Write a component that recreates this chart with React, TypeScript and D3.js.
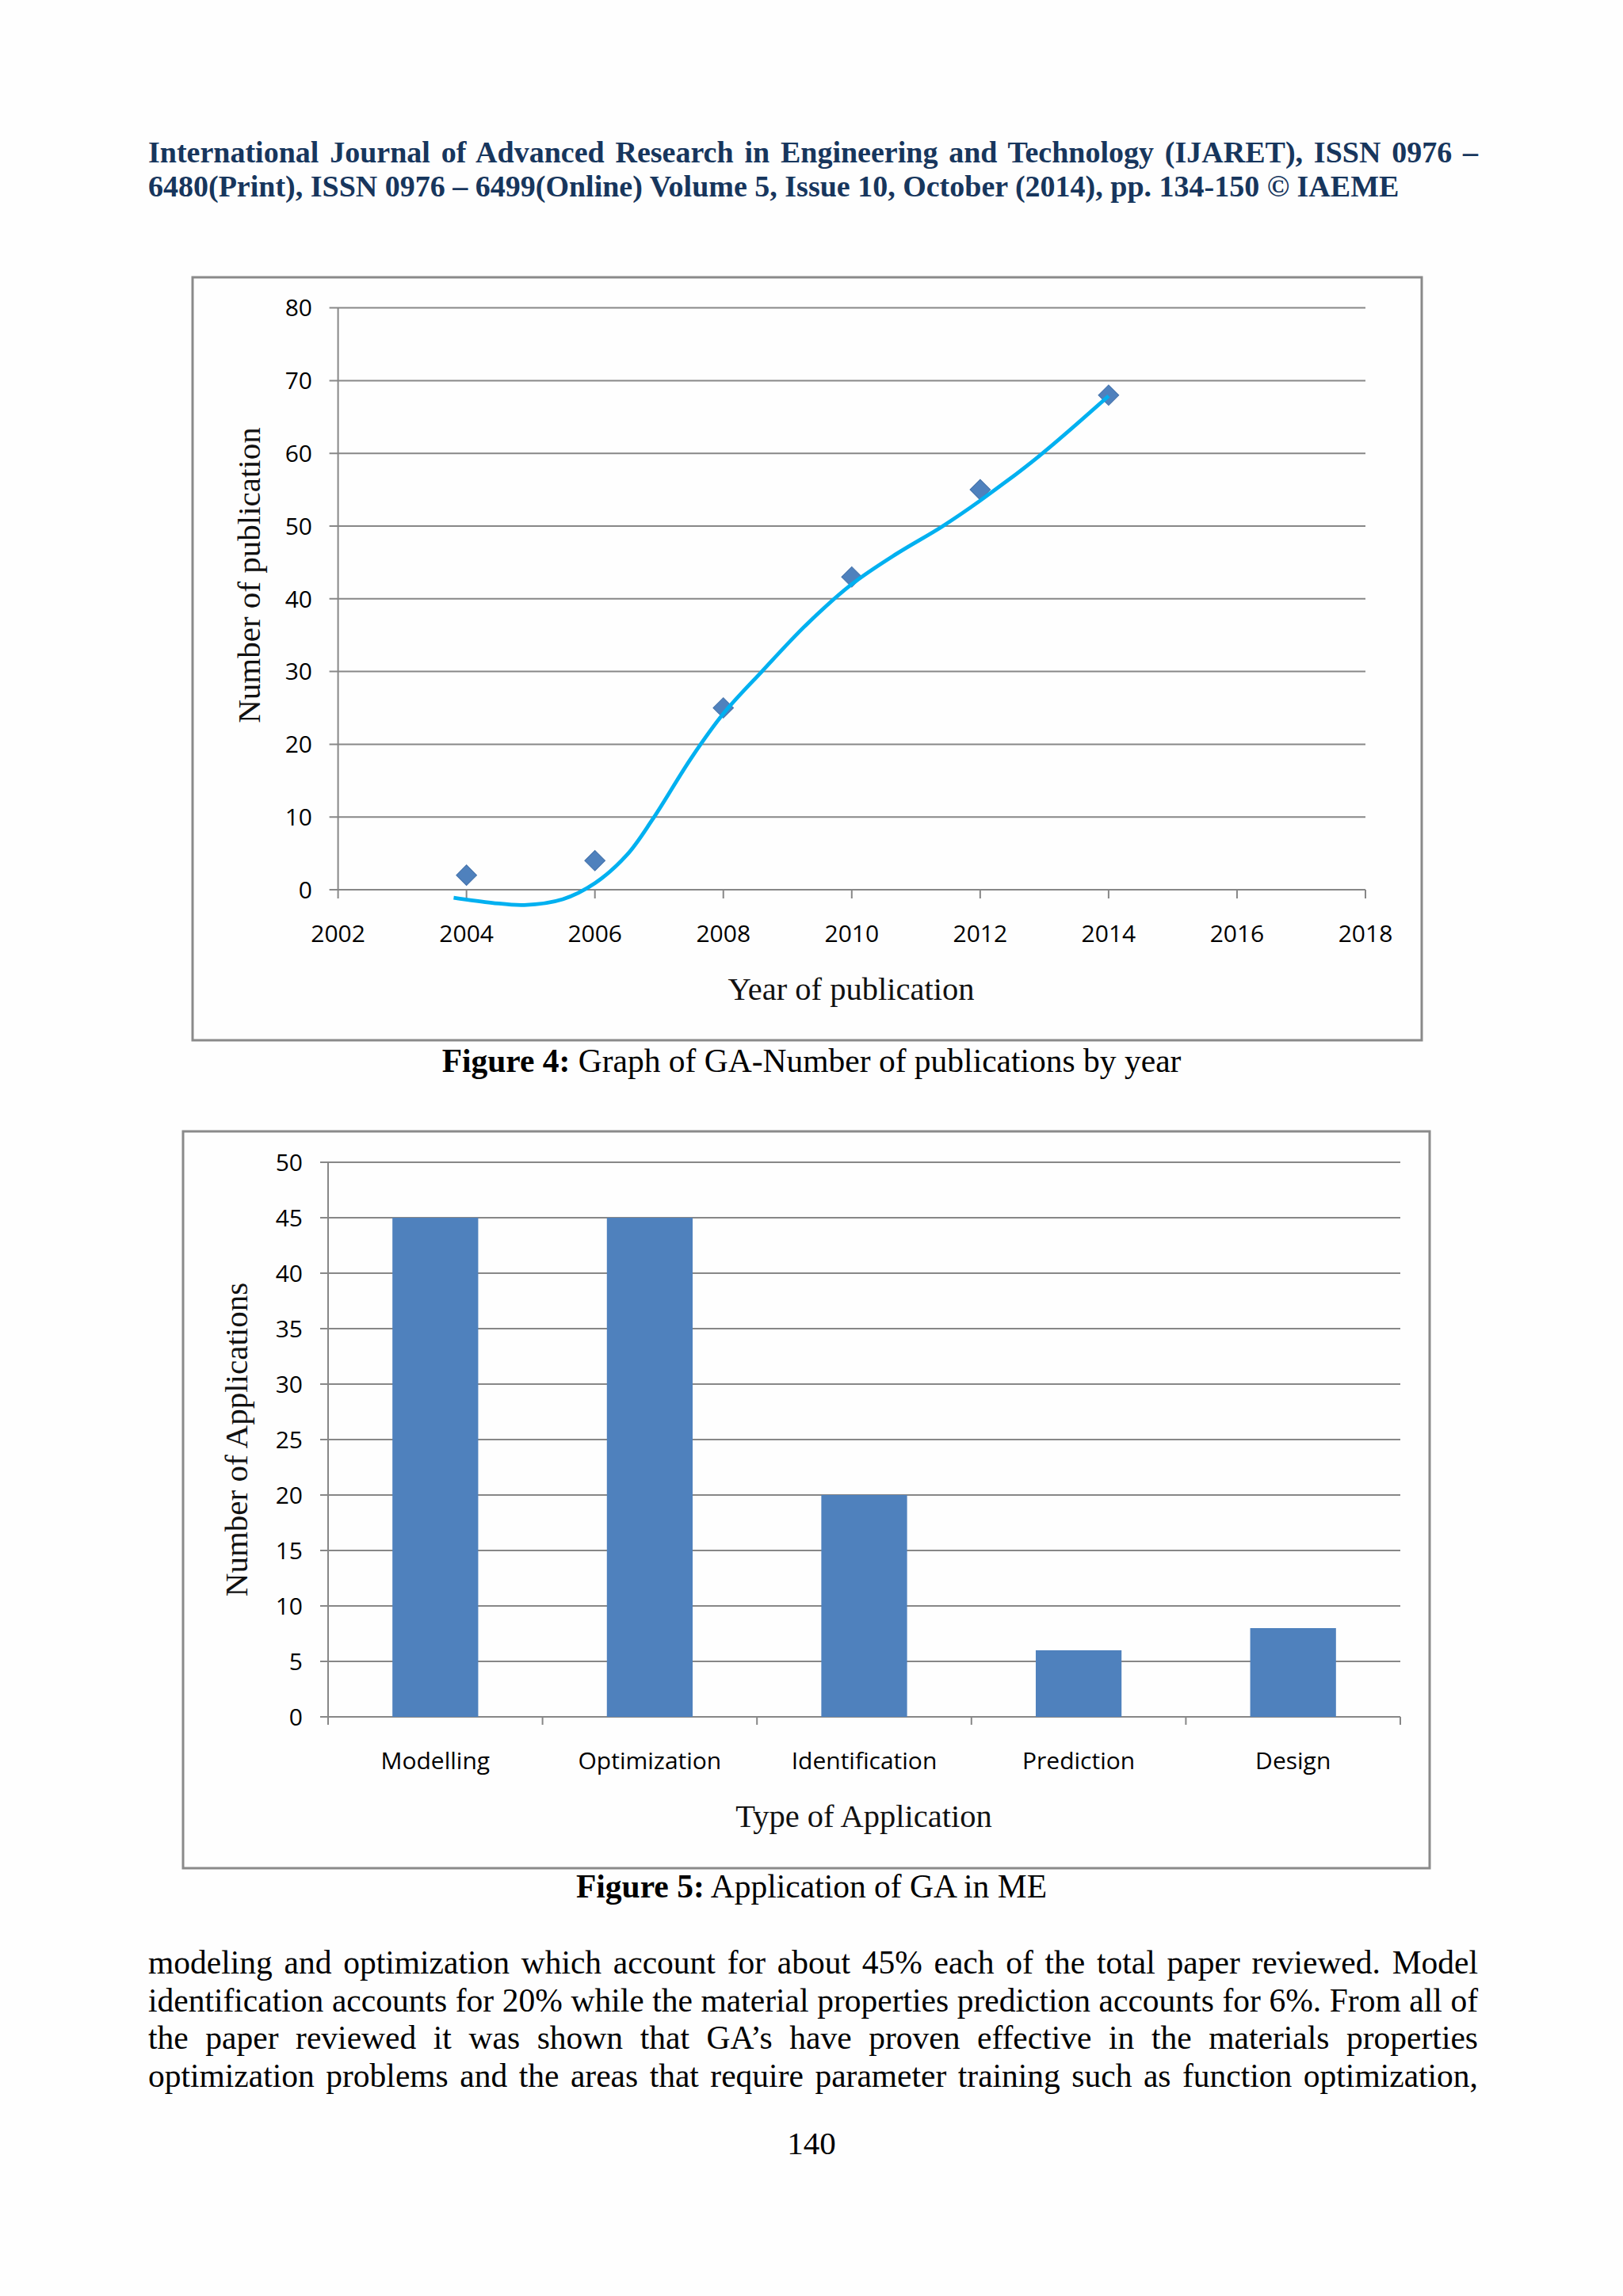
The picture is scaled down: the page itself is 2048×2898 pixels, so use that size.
import React, { useLayoutEffect, useRef } from "react";
import * as d3 from "d3";

// ---------- Data ----------
const headerLines = [
  "International Journal of Advanced Research in Engineering and Technology (IJARET), ISSN 0976 –",
  "6480(Print), ISSN 0976 – 6499(Online) Volume 5, Issue 10, October (2014), pp. 134-150 © IAEME",
];

const pubYears = [2004, 2006, 2008, 2010, 2012, 2014];
const pubCounts = [2, 4, 25, 43, 55, 68];
const trendYears = [2003.8, 2004.4, 2004.9, 2005.5, 2006, 2006.5, 2006.9, 2007.5, 2008, 2008.6, 2009.3, 2010, 2010.7, 2011.4, 2012, 2012.9, 2014];
const trendValues = [-1.1, -1.8, -2.1, -1.3, 0.9, 4.8, 9.7, 18.1, 24.2, 30, 36.5, 42, 46.2, 49.9, 53.5, 59.5, 67.9];
const yearTicks = [2002, 2004, 2006, 2008, 2010, 2012, 2014, 2016, 2018];
const pubTicks = [0, 10, 20, 30, 40, 50, 60, 70, 80];

const appCategories = ["Modelling", "Optimization", "Identification", "Prediction", "Design"];
const appCounts = [45, 45, 20, 6, 8];
const appTicks = [0, 5, 10, 15, 20, 25, 30, 35, 40, 45, 50];

const bodyLines = [
  "modeling and optimization which account for about 45% each of the total paper reviewed. Model",
  "identification accounts for 20% while the material properties prediction accounts for 6%. From all of",
  "the paper reviewed it was shown that GA’s have proven effective in the materials properties",
  "optimization problems and the areas that require parameter training such as function optimization,",
];

// ---------- Styles ----------
const SERIF = "'Liberation Serif', 'Times New Roman', serif";
const SANS = "'Open Sans', 'Noto Sans', sans-serif";
const GRID = "#878787";
const FRAME = "#8a8a8a";
const BLUE = "#4F81BD";
const CYAN = "#00B0F0";
const TICK_FONT = 30;
const LEFT = 187;
const TEXT_W = 1678;

export default function App() {
  const svgRef = useRef<SVGSVGElement>(null);

  // justify marked lines by adjusting word spacing
  useLayoutEffect(() => {
    const svg = svgRef.current;
    if (!svg) return;
    svg.querySelectorAll<SVGTextElement>("text.justify").forEach((t) => {
      t.style.wordSpacing = "0px";
      const natural = t.getComputedTextLength();
      const spaces = (t.textContent || "").split(" ").length - 1;
      if (spaces > 0) {
        const extra = (TEXT_W - natural) / spaces;
        t.style.wordSpacing = `${extra}px`;
      }
    });
  }, []);

  // Chart 1 scales
  const x1 = d3.scaleLinear().domain([2002, 2018]).range([426.6, 1723]);
  const y1 = d3.scaleLinear().domain([0, 80]).range([1123, 388.6]);
  const trendLine = d3
    .line<number>()
    .x((_, i) => x1(trendYears[i]))
    .y((v) => y1(v))
    .curve(d3.curveCatmullRom.alpha(0.5));

  // Chart 2 scales
  const x2 = d3.scaleBand<string>().domain(appCategories).range([414, 1767]).paddingInner(0.6).paddingOuter(0.3);
  const y2 = d3.scaleLinear().domain([0, 50]).range([2167, 1467]);
  const step = x2.step();
  const boundaries = appCategories.map((c) => (x2(c) as number) + x2.bandwidth() / 2 - step / 2);
  boundaries.push(x2.range()[1]);

  const diamond = d3.symbol().type(d3.symbolSquare).size(330)();

  return (
    <svg
      ref={svgRef}
      width={2048}
      height={2898}
      style={{ position: "absolute", left: 0, top: 0, background: "#fefefe" }}
    >
      <rect x={0} y={0} width={2048} height={2898} fill="#fefefe" />
      {/* Header */}
      <g fill="#17365D" fontFamily={SERIF} fontWeight="bold" fontSize={38}>
        <text className="justify" x={LEFT} y={205}>{headerLines[0]}</text>
        <text x={LEFT} y={248}>{headerLines[1]}</text>
      </g>

      {/* ---------- Chart 1 ---------- */}
      <rect x={243} y={350} width={1551} height={963} fill="none" stroke={FRAME} strokeWidth={3} />
      <g>
        {pubTicks.map((t) => (
          <g key={t}>
            <line x1={x1.range()[0] - 11} x2={x1.range()[1]} y1={y1(t)} y2={y1(t)} stroke={GRID} strokeWidth={2} />
            <text x={394} y={y1(t)} dy="0.36em" textAnchor="end" fontFamily={SANS} fontSize={TICK_FONT} fill="#000">{t}</text>
          </g>
        ))}
        <line x1={x1.range()[0]} x2={x1.range()[0]} y1={y1(80)} y2={y1(0)} stroke={GRID} strokeWidth={2} />
        {yearTicks.map((t) => (
          <g key={t}>
            <line x1={x1(t)} x2={x1(t)} y1={y1(0)} y2={y1(0) + 11} stroke={GRID} strokeWidth={2} />
            <text x={x1(t)} y={1178} dy="0.36em" textAnchor="middle" fontFamily={SANS} fontSize={TICK_FONT} fill="#000">{t}</text>
          </g>
        ))}
        {pubYears.map((yr, i) => (
          <path key={yr} d={diamond as string} transform={`translate(${x1(yr)},${y1(pubCounts[i])}) rotate(45)`} fill={BLUE} stroke="#4472aa" strokeWidth={1} />
        ))}
        <path d={trendLine(trendValues) as string} fill="none" stroke={CYAN} strokeWidth={4.8} />
        <text transform="translate(328,726) rotate(-90)" textAnchor="middle" fontFamily={SERIF} fontSize={41} fill="#111">Number of publication</text>
        <text x={1074} y={1262} textAnchor="middle" fontFamily={SERIF} fontSize={40.5} fill="#111">Year of publication</text>
      </g>
      <text x={1024} y={1353} textAnchor="middle" fontFamily={SERIF} fontSize={41.5} fill="#000">
        <tspan fontWeight="bold">Figure 4:</tspan> Graph of GA-Number of publications by year
      </text>

      {/* ---------- Chart 2 ---------- */}
      <rect x={231} y={1428} width={1573} height={930} fill="none" stroke={FRAME} strokeWidth={3} />
      <g>
        {appTicks.map((t) => (
          <g key={t}>
            <line x1={414 - 10} x2={x2.range()[1]} y1={y2(t)} y2={y2(t)} stroke={GRID} strokeWidth={2} />
            <text x={382} y={y2(t)} dy="0.36em" textAnchor="end" fontFamily={SANS} fontSize={TICK_FONT} fill="#000">{t}</text>
          </g>
        ))}
        <line x1={414} x2={414} y1={y2(50)} y2={y2(0)} stroke={GRID} strokeWidth={2} />
        {boundaries.map((b, i) => (
          <line key={i} x1={b} x2={b} y1={y2(0)} y2={y2(0) + 10} stroke={GRID} strokeWidth={2} />
        ))}
        {appCategories.map((c, i) => (
          <g key={c}>
            <rect x={x2(c)} y={y2(appCounts[i])} width={x2.bandwidth()} height={y2(0) - y2(appCounts[i])} fill={BLUE} />
            <text x={(x2(c) as number) + x2.bandwidth() / 2} y={2222} dy="0.36em" textAnchor="middle" fontFamily={SANS} fontSize={TICK_FONT} fill="#000">{c}</text>
          </g>
        ))}
        <text transform="translate(312,1817) rotate(-90)" textAnchor="middle" fontFamily={SERIF} fontSize={41} fill="#111">Number of Applications</text>
        <text x={1090} y={2306} textAnchor="middle" fontFamily={SERIF} fontSize={40.5} fill="#111">Type of Application</text>
      </g>
      <text x={1024} y={2395} textAnchor="middle" fontFamily={SERIF} fontSize={41.5} fill="#000">
        <tspan fontWeight="bold">Figure 5:</tspan> Application of GA in ME
      </text>

      {/* Body text */}
      <g fontFamily={SERIF} fontSize={41.5} fill="#000">
        {bodyLines.map((l, i) => (
          <text key={i} className="justify" x={LEFT} y={2491 + i * 47.7}>{l}</text>
        ))}
      </g>
      <text x={1024} y={2719} textAnchor="middle" fontFamily={SERIF} fontSize={41} fill="#000">140</text>
    </svg>
  );
}
